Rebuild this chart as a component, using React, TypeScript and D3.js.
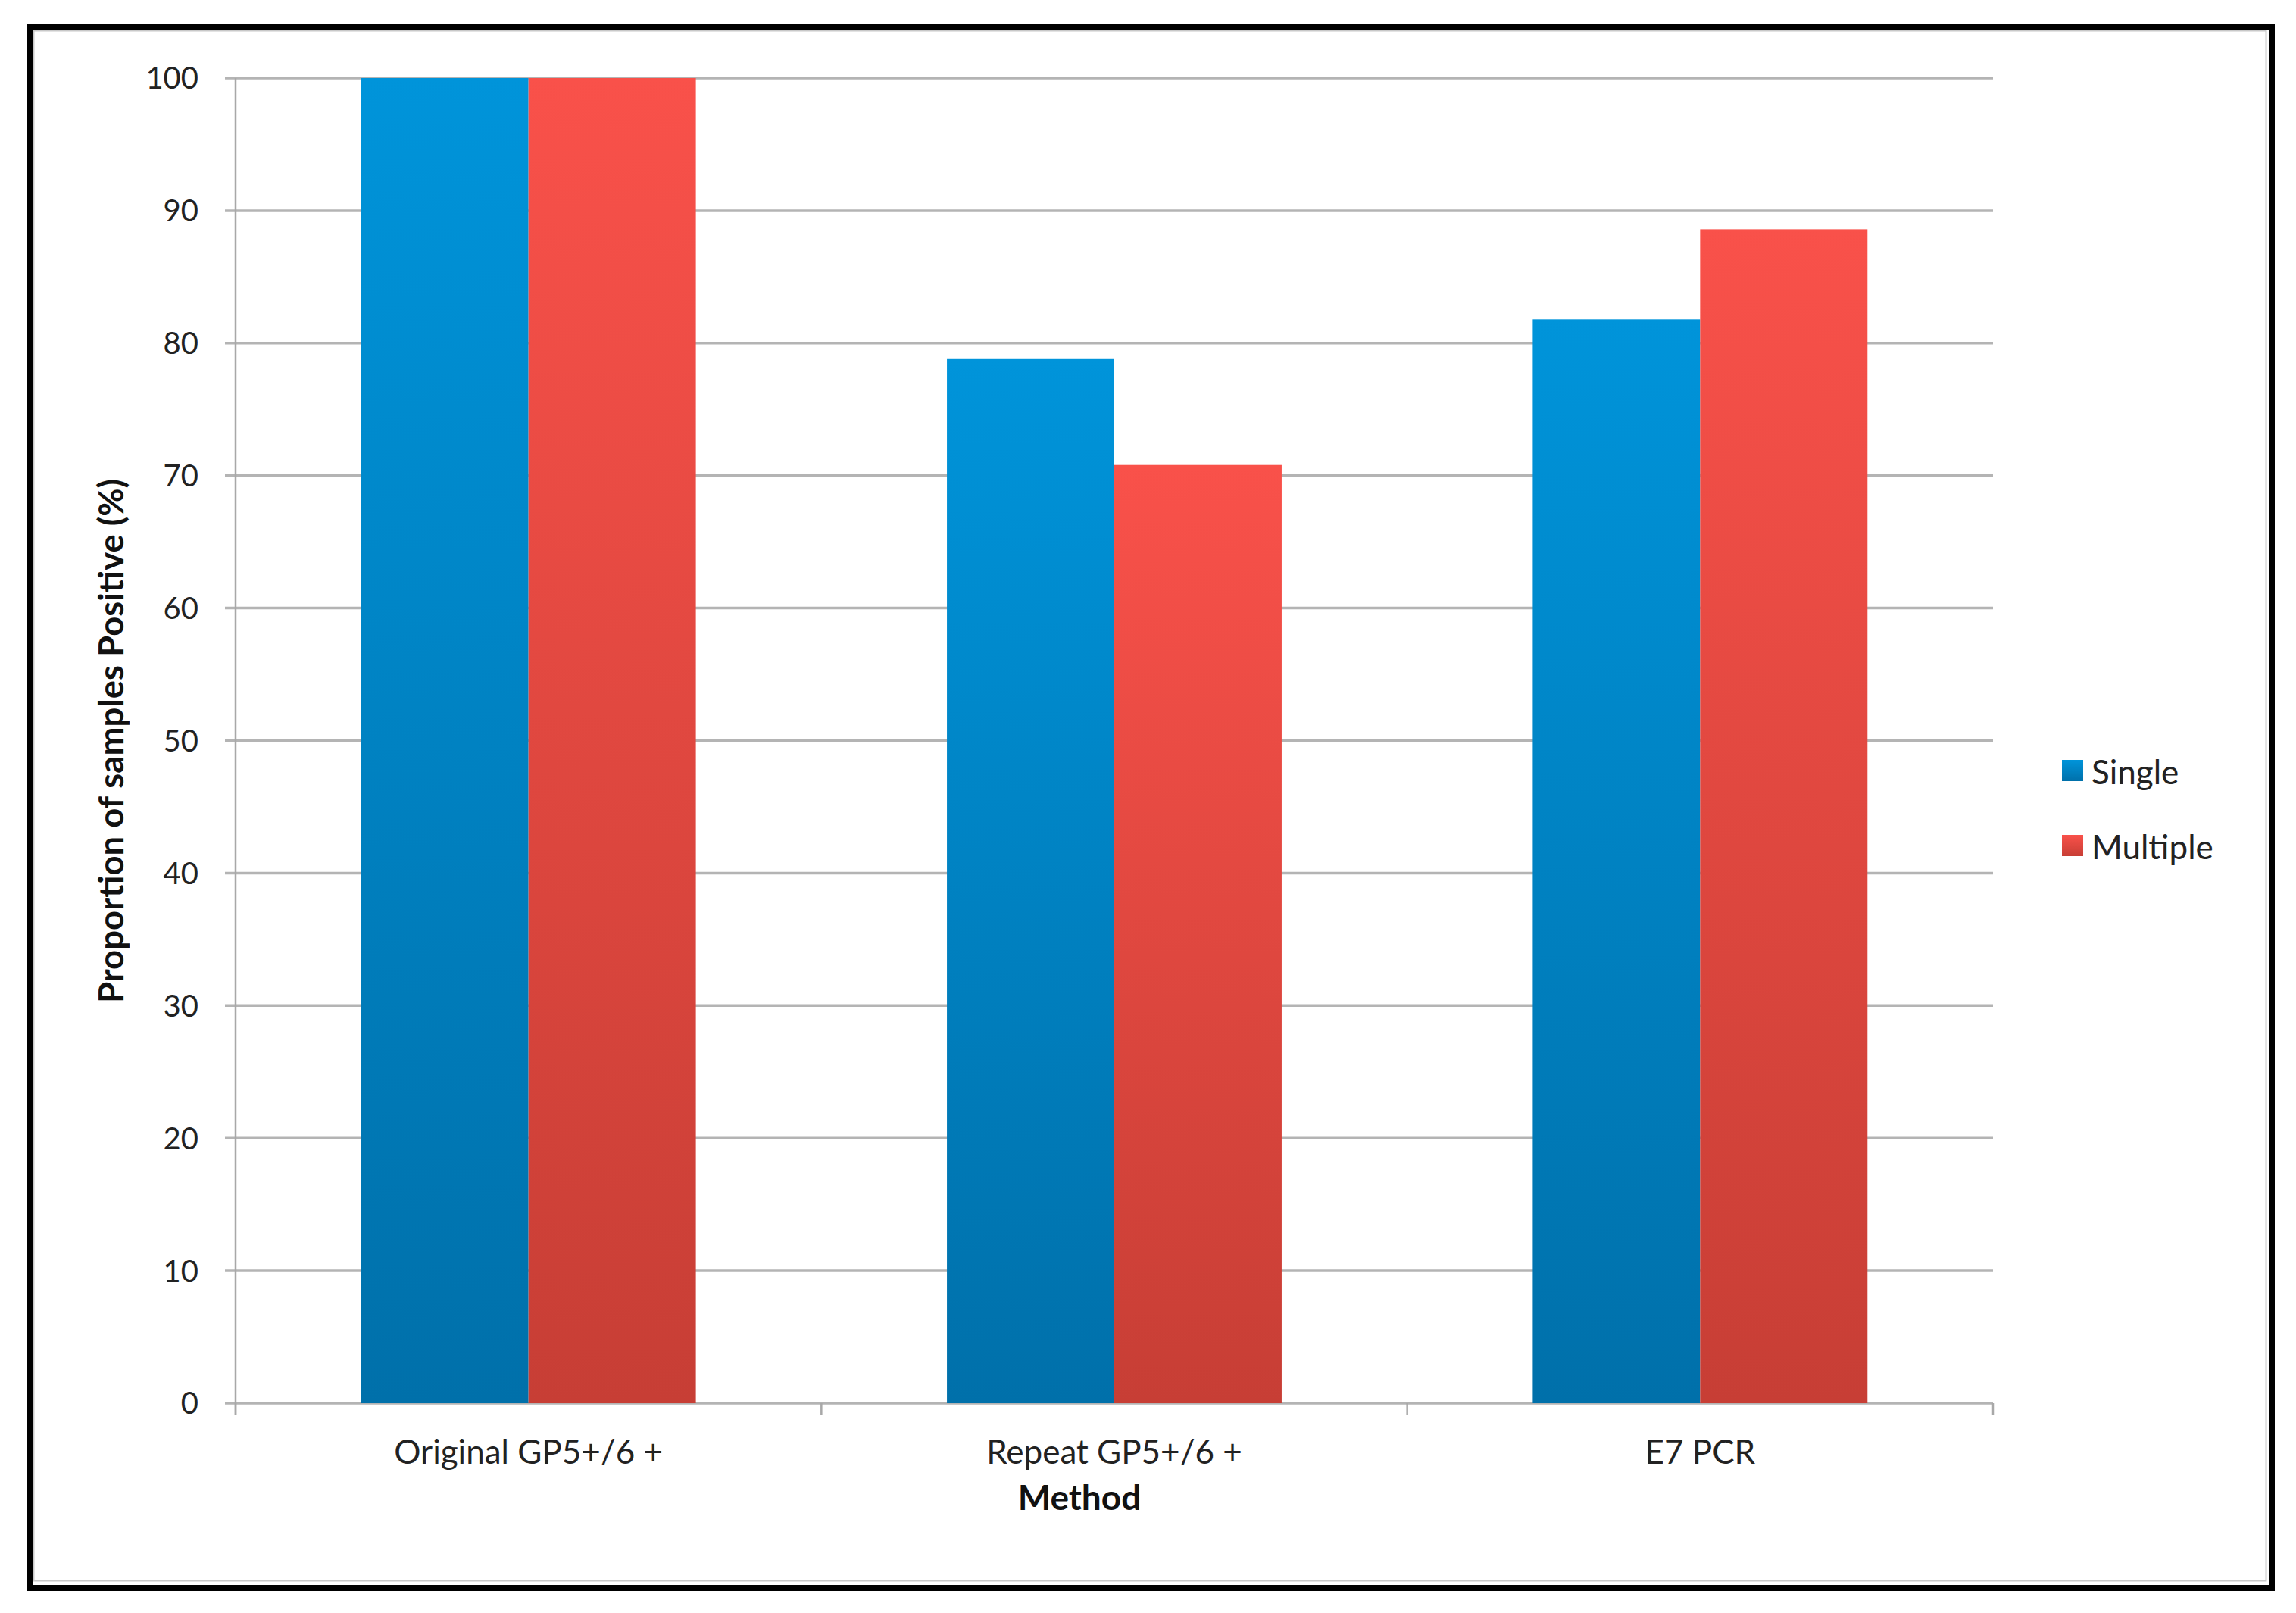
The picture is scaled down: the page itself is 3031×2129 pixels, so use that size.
import * as d3 from "d3";

const categories = ["Original GP5+/6 +", "Repeat GP5+/6 +", "E7 PCR"];
const seriesNames = ["Single", "Multiple"];
const singleValues = [100, 78.8, 81.8];
const multipleValues = [100, 70.8, 88.6];
const yTicks = [0, 10, 20, 30, 40, 50, 60, 70, 80, 90, 100];

const width = 3031;
const height = 2129;
const marginLeft = 311;
const plotRight = 2631;
const plotTop = 103;
const plotBottom = 1852;

const font = "Lato, 'Open Sans', sans-serif";
const gradients = [
  { id: "gSingle", top: "#0094da", bottom: "#0070aa" },
  { id: "gMultiple", top: "#f9514a", bottom: "#c73e35" },
];

export default function App() {
  const x = d3
    .scaleBand<string>()
    .domain(categories)
    .range([marginLeft, plotRight])
    .paddingInner(0.4286)
    .paddingOuter(0.2143);
  // full category slot, for the x-axis ticks
  const slot = (plotRight - marginLeft) / categories.length;
  const inner = d3
    .scaleBand<number>()
    .domain([0, 1])
    .range([0, x.bandwidth()]);
  const y = d3.scaleLinear([0, 100], [plotBottom, plotTop]);
  const series = [singleValues, multipleValues];

  return (
    <svg
      width={width}
      height={height}
      style={{ position: "absolute", left: 0, top: 0, background: "#fff" }}
    >
      <defs>
        {gradients.map((g) => (
          <linearGradient key={g.id} id={g.id} x1="0" y1="0" x2="0" y2="1">
            <stop offset="0" stopColor={g.top} />
            <stop offset="1" stopColor={g.bottom} />
          </linearGradient>
        ))}
      </defs>
      <rect x={0} y={0} width={width} height={height} fill="#fff" />
      {/* frame */}
      <rect x={39} y={36} width={2960} height={2060} fill="none" stroke="#000" strokeWidth={8} />
      <rect x={44.5} y={40.5} width={2947} height={2046} fill="none" stroke="#c8c8c8" strokeWidth={2} />

      {/* gridlines and axis ticks */}
      <g stroke="#b4b4b4" strokeWidth={3.5}>
        {yTicks.map((t) => (
          <line key={t} x1={marginLeft - 14} x2={plotRight} y1={y(t)} y2={y(t)} />
        ))}
      </g>
      <line x1={marginLeft} x2={marginLeft} y1={plotTop} y2={plotBottom + 15} stroke="#a8a8a8" strokeWidth={2.5} />
      <g stroke="#a8a8a8" strokeWidth={2.5}>
        {d3.range(categories.length + 1).map((i) => (
          <line
            key={i}
            x1={marginLeft + i * slot}
            x2={marginLeft + i * slot}
            y1={plotBottom}
            y2={plotBottom + 15}
          />
        ))}
      </g>

      {/* bars */}
      {series.map((vals, si) => (
        <g key={si} fill={`url(#${gradients[si].id})`}>
          {vals.map((v, ci) => (
            <rect
              key={ci}
              x={x(categories[ci])! + inner(si)!}
              y={y(v)}
              width={inner.bandwidth()}
              height={y(0) - y(v)}
            />
          ))}
        </g>
      ))}

      {/* y tick labels */}
      <g fontFamily={font} fontSize={40} fill="#222" textAnchor="end">
        {yTicks.map((t) => (
          <text key={t} x={262} y={y(t)} dy="0.36em">
            {t}
          </text>
        ))}
      </g>

      {/* category labels */}
      <g fontFamily={font} fontSize={44} fill="#222" textAnchor="middle">
        {categories.map((c) => (
          <text key={c} x={x(c)! + x.bandwidth() / 2} y={1932}>
            {c}
          </text>
        ))}
      </g>

      {/* axis titles */}
      <text x={1425} y={1993} fontFamily={font} fontSize={46} fontWeight="bold" textAnchor="middle" fill="#111">
        Method
      </text>
      <text
        transform={`translate(163,978) rotate(-90)`}
        fontFamily={font}
        fontSize={45.5}
        fontWeight="bold"
        textAnchor="middle"
        fill="#111"
      >
        Proportion of samples Positive (%)
      </text>

      {/* legend */}
      <g fontFamily={font} fontSize={44} fill="#222">
        {seriesNames.map((n, i) => (
          <g key={n} transform={`translate(2722,${1003 + i * 99})`}>
            <rect width={28} height={28} fill={`url(#${gradients[i].id})`} />
            <text x={39} y={32}>
              {n}
            </text>
          </g>
        ))}
      </g>
    </svg>
  );
}
